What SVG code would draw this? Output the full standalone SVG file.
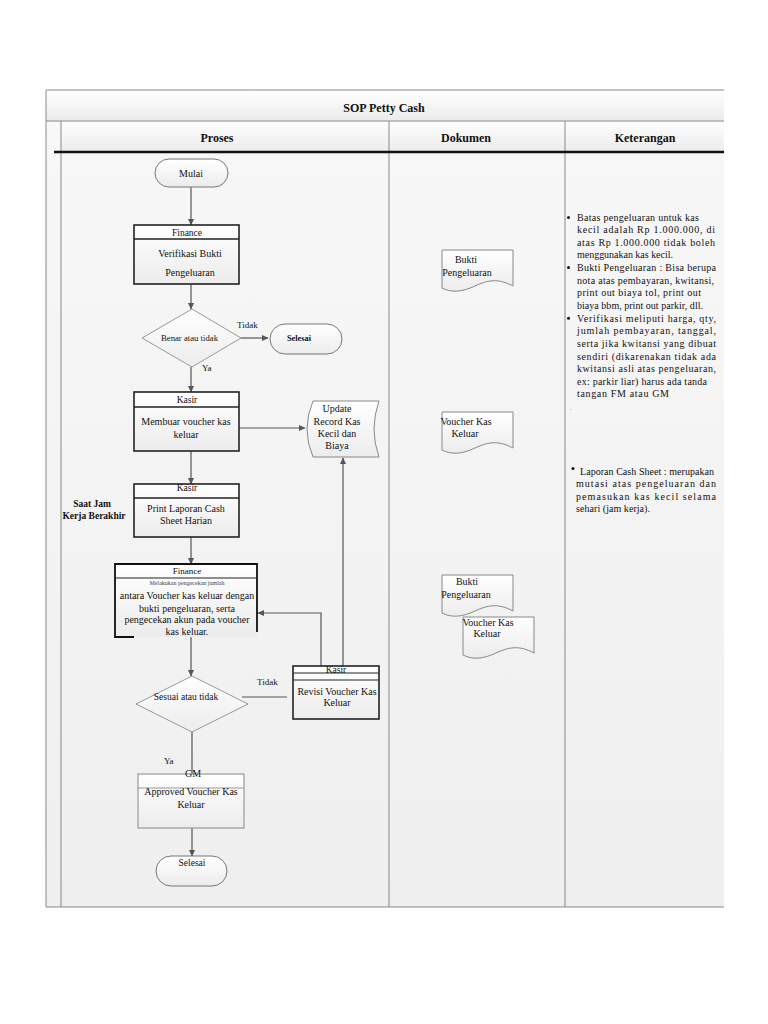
<svg xmlns="http://www.w3.org/2000/svg" width="768" height="1024" viewBox="0 0 768 1024">
<defs>
<linearGradient id="bg" x1="0" y1="0" x2="0" y2="1">
<stop offset="0" stop-color="#f8f8f8"/><stop offset="1" stop-color="#efefef"/>
</linearGradient>
<linearGradient id="hd" x1="0" y1="0" x2="0" y2="1">
<stop offset="0" stop-color="#ffffff"/><stop offset="1" stop-color="#ebebeb"/>
</linearGradient>
<linearGradient id="bx" x1="0" y1="0" x2="0" y2="1">
<stop offset="0" stop-color="#ffffff"/><stop offset="1" stop-color="#ececec"/>
</linearGradient>
<marker id="ar" markerWidth="7" markerHeight="7" refX="6" refY="3.5" orient="auto" markerUnits="userSpaceOnUse">
<path d="M0,0.5 L6.5,3.5 L0,6.5 Z" fill="#555"/>
</marker>
<style>
text{font-family:"Liberation Serif","Times New Roman",serif;fill:#111;font-size:10px}
.c{text-anchor:middle}
.b{font-weight:bold}
.h{font-size:12px;font-weight:bold;text-anchor:middle}
.s9{font-size:9px}
.s95{font-size:9.5px}
.s75{font-size:7.5px}
.s7{font-size:7px}
.s6{font-size:6px;fill:#444}
.frame{stroke:#888;stroke-width:1;fill:none}
.box{fill:url(#bx);stroke:#222;stroke-width:1.6}
.thin{fill:url(#bx);stroke:#999;stroke-width:1}
.doc{fill:url(#bx);stroke:#888;stroke-width:1}
.ln{fill:none;stroke:#555;stroke-width:1.2}
.arr{fill:none;stroke:#555;stroke-width:1.2;marker-end:url(#ar)}
</style>
</defs>
<rect width="768" height="1024" fill="#ffffff"/>
<g id="frame">
<rect x="46" y="90" width="678" height="817" fill="url(#bg)"/>
<rect x="46" y="90" width="678" height="31" fill="url(#hd)"/>
<rect x="61" y="121" width="663" height="31" fill="url(#hd)"/>
<line class="frame" x1="46" y1="90" x2="724" y2="90"/>
<line class="frame" x1="46" y1="121" x2="724" y2="121"/>
<line class="frame" x1="46" y1="90" x2="46" y2="907"/>
<line class="frame" x1="46" y1="907" x2="724" y2="907"/>
<line class="frame" x1="61" y1="121" x2="61" y2="907"/>
<line class="frame" x1="389" y1="121" x2="389" y2="907"/>
<line class="frame" x1="565" y1="121" x2="565" y2="907"/>
<line x1="54" y1="152" x2="724" y2="152" stroke="#111" stroke-width="2.5"/>
<text class="h" x="384" y="112">SOP Petty Cash</text>
<text class="h" x="217" y="142">Proses</text>
<text class="h" x="466" y="142">Dokumen</text>
<text class="h" x="645" y="142">Keterangan</text>
</g>
<g id="connectors">
<line class="arr" x1="191" y1="187" x2="191" y2="225"/>
<line class="arr" x1="191" y1="284" x2="191" y2="309"/>
<line class="arr" x1="241" y1="338" x2="268" y2="338"/>
<line class="arr" x1="191" y1="367" x2="191" y2="392"/>
<line class="arr" x1="239" y1="428" x2="305" y2="428"/>
<line class="arr" x1="191" y1="451" x2="191" y2="484"/>
<line class="arr" x1="191" y1="537" x2="191" y2="564"/>
<line class="arr" x1="191" y1="637" x2="191" y2="676"/>
<line class="ln" x1="242" y1="697" x2="287" y2="697"/>
<path d="M293,701.5 L298,705 L293,708.5 Z" fill="#555"/>
<polyline class="arr" points="321,670 321,613 258,613"/>
<line class="arr" x1="343" y1="670" x2="343" y2="458"/>
<line class="ln" x1="192" y1="732" x2="192" y2="774"/>
<line class="arr" x1="192" y1="828" x2="192" y2="856"/>
</g>
<g id="mulai">
<rect class="thin" x="155" y="159" width="73" height="28" rx="14" style="stroke:#777"/>
<text class="c" x="191" y="176.5">Mulai</text>
</g>
<g id="finance1">
<rect class="box" x="134" y="225" width="105" height="59"/>
<line x1="134" y1="239" x2="239" y2="239" stroke="#222" stroke-width="1.4"/>
<text class="c s95" x="187" y="235.5">Finance</text>
<text class="c" x="190" y="256.5">Verifikasi Bukti</text>
<text class="c" x="190" y="275.5">Pengeluaran</text>
</g>
<g id="decision1">
<polygon points="192,309 241,338 192,367 142,338" fill="url(#bx)" stroke="#999"/>
<text class="c s75" x="189.5" y="340.5" textLength="57" lengthAdjust="spacingAndGlyphs">Benar atau tidak</text>
<text class="s9" x="237" y="327.5">Tidak</text>
<text class="s9" x="202" y="371">Ya</text>
</g>
<g id="selesai1">
<rect class="thin" x="270" y="324" width="72" height="30" rx="15" style="stroke:#777"/>
<text class="c b s75" x="299" y="340.5" textLength="24" lengthAdjust="spacingAndGlyphs">Selesai</text>
</g>
<g id="kasir1">
<rect class="box" x="134" y="392" width="105" height="59"/>
<line x1="134" y1="407" x2="239" y2="407" stroke="#222" stroke-width="1.4"/>
<text class="c s95" x="187" y="403">Kasir</text>
<text class="c" x="186" y="424.5">Membuar voucher kas</text>
<text class="c" x="186" y="437.5">keluar</text>
</g>
<g id="update-record">
<path class="doc" d="M313,401 H379 Q369,429 379,457 H313 Q301,429 313,401 Z"/>
<text class="c" x="337" y="411.5">Update</text>
<text class="c" x="337" y="424.5">Record Kas</text>
<text class="c" x="337" y="436.5">Kecil dan</text>
<text class="c" x="337" y="448.5">Biaya</text>
</g>
<g id="kasir2">
<rect class="box" x="134" y="484" width="105" height="53"/>
<line x1="134" y1="498" x2="239" y2="498" stroke="#222" stroke-width="1.4"/>
<text class="c s95" x="187" y="491">Kasir</text>
<text class="c" x="186" y="511.5">Print Laporan Cash</text>
<text class="c" x="186" y="523.5">Sheet Harian</text>
<text class="c b s95" x="92" y="506.5">Saat Jam</text>
<text class="c b s95" x="94" y="518.5">Kerja Berakhir</text>
</g>
<g id="finance2">
<rect x="115" y="564" width="142" height="73" fill="url(#bx)" stroke="none"/>
<polyline points="134,637 115,637 115,564 257,564 257,632" fill="none" stroke="#111" stroke-width="1.8"/>
<line x1="115" y1="578" x2="257" y2="578" stroke="#222" stroke-width="1.2"/>
<text class="c s9" x="187" y="573.5">Finance</text>
<text class="c s6" x="187" y="584.5">Melakukan pengecekan jumlah</text>
<text class="c" x="187" y="598.5">antara Voucher kas keluar dengan</text>
<text class="c" x="187" y="611.5">bukti pengeluaran, serta</text>
<text class="c" x="187" y="622.5">pengecekan akun pada voucher</text>
<text class="c" x="187" y="634.5">kas keluar.</text>
</g>
<g id="decision2">
<polygon points="192,676 248,704 192,732 136,704" fill="url(#bx)" stroke="#999"/>
<text class="c s95" x="186" y="699.5">Sesuai atau tidak</text>
<text class="s9" x="257" y="684.5">Tidak</text>
<text class="s9" x="164" y="763.5">Ya</text>
</g>
<g id="revisi">
<rect class="box" x="293" y="666" width="86" height="53"/>
<line x1="293" y1="673" x2="379" y2="673" stroke="#222" stroke-width="1.2"/>
<line x1="293" y1="680" x2="379" y2="680" stroke="#222" stroke-width="1.2"/>
<text class="c s95" x="336" y="673">Kasir</text>
<text class="c" x="337" y="694.5">Revisi Voucher Kas</text>
<text class="c" x="337" y="705.5">Keluar</text>
</g>
<g id="gm">
<rect class="thin" x="138" y="774" width="106" height="54" style="stroke:#888"/>
<line x1="138" y1="788" x2="244" y2="788" stroke="#999"/>
<text class="c" x="193" y="777">GM</text>
<text class="c" x="191" y="794.5">Approved Voucher Kas</text>
<text class="c" x="191" y="807.5">Keluar</text>
</g>
<g id="selesai2">
<rect class="thin" x="156" y="856" width="71" height="30" rx="15" style="stroke:#777"/>
<text class="c s95" x="192" y="865.5">Selesai</text>
</g>
<g id="doc-bukti1">
<path class="doc" d="M442,250 H513 V286 C498,278 488,280 475,286 C462,292 452,293 442,288 Z"/>
<text class="c" x="466" y="262.5">Bukti</text>
<text class="c" x="467" y="275.5">Pengeluaran</text>
</g>
<g id="doc-voucher1">
<path class="doc" d="M442,412 H513 V448 C498,440 488,442 475,448 C462,454 452,455 442,450 Z"/>
<text class="c" x="466" y="424.5">Voucher Kas</text>
<text class="c" x="465" y="436.5">Keluar</text>
</g>
<g id="doc-bukti2">
<path class="doc" d="M442,575 H513 V611 C498,603 488,605 475,611 C462,617 452,618 442,613 Z"/>
<text class="c" x="467" y="584.5">Bukti</text>
<text class="c" x="466" y="597.5">Pengeluaran</text>
</g>
<g id="doc-voucher2">
<path class="doc" d="M463,617 H534 V653 C519,645 509,647 496,653 C483,659 473,660 463,655 Z"/>
<text class="c" x="488" y="625.5">Voucher Kas</text>
<text class="c" x="487" y="636.5">Keluar</text>
</g>
<g id="keterangan">
<circle cx="568.5" cy="217.5" r="1.5" fill="#111"/>
<text x="577" y="220.5" textLength="122" lengthAdjust="spacing">Batas pengeluaran untuk kas</text>
<text x="577" y="233.1" textLength="138" lengthAdjust="spacing">kecil adalah Rp 1.000.000, di</text>
<text x="577" y="245.8" textLength="138" lengthAdjust="spacing">atas Rp   1.000.000 tidak boleh</text>
<text x="577" y="258.4" textLength="96" lengthAdjust="spacing">menggunakan kas kecil.</text>
<circle cx="568.5" cy="267.6" r="1.5" fill="#111"/>
<text x="577" y="271.1" textLength="139" lengthAdjust="spacing">Bukti Pengeluaran : Bisa berupa</text>
<text x="577" y="283.7" textLength="137" lengthAdjust="spacing">nota atas pembayaran, kwitansi,</text>
<text x="577" y="296.3" textLength="124" lengthAdjust="spacing">print out biaya tol, print out</text>
<text x="577" y="309" textLength="126" lengthAdjust="spacing">biaya bbm, print out parkir, dll.</text>
<circle cx="568.5" cy="318.2" r="1.5" fill="#111"/>
<text x="577" y="321.6" textLength="139" lengthAdjust="spacing">Verifikasi meliputi harga,     qty,</text>
<text x="577" y="334.2" textLength="139" lengthAdjust="spacing">jumlah pembayaran,  tanggal,</text>
<text x="577" y="346.9" textLength="139" lengthAdjust="spacing">serta jika kwitansi yang dibuat</text>
<text x="577" y="359.5" textLength="139" lengthAdjust="spacing">sendiri (dikarenakan tidak  ada</text>
<text x="577" y="372.1" textLength="139" lengthAdjust="spacing">kwitansi asli atas pengeluaran,</text>
<text x="577" y="384.8" textLength="130" lengthAdjust="spacing">ex: parkir liar) harus ada tanda</text>
<text x="577" y="397.4" textLength="92" lengthAdjust="spacing">tangan FM atau GM</text>
<text x="570" y="410" style="font-size:8px;fill:#777">.</text>
<circle cx="573" cy="468.5" r="1.5" fill="#111"/>
<text x="580" y="474.5" textLength="134" lengthAdjust="spacing">Laporan Cash Sheet : merupakan</text>
<text x="576" y="487" textLength="140" lengthAdjust="spacing">mutasi atas pengeluaran  dan</text>
<text x="576" y="499.5" textLength="140" lengthAdjust="spacing">pemasukan kas kecil  selama</text>
<text x="576" y="512" textLength="74" lengthAdjust="spacing">sehari (jam kerja).</text>
</g>
</svg>
